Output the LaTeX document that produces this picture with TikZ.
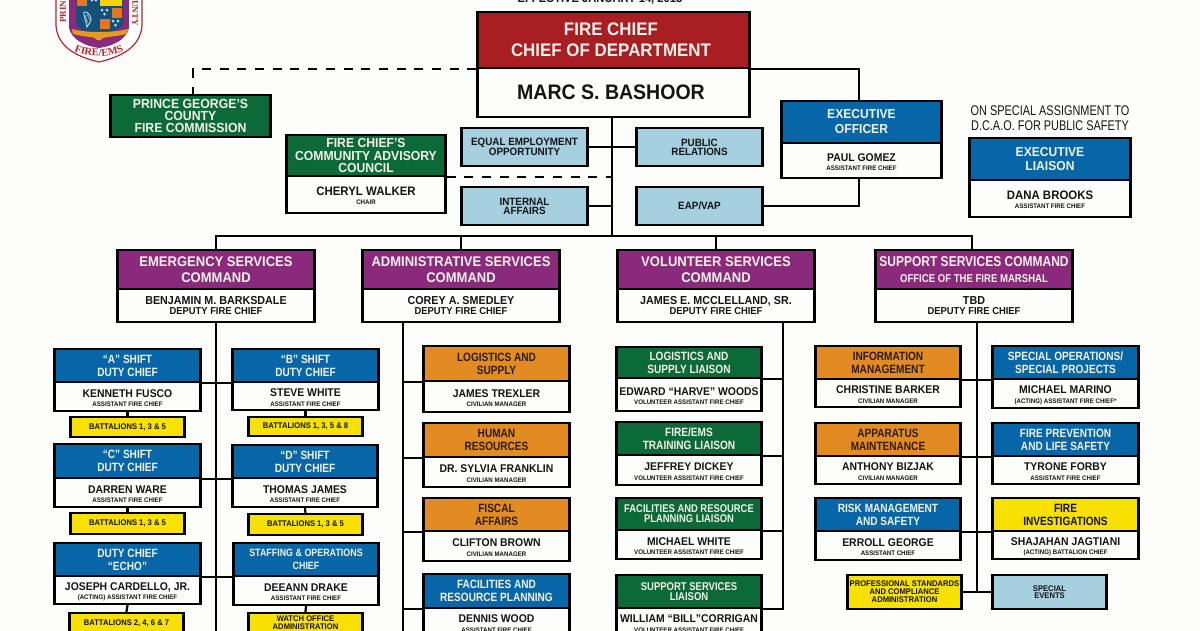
\documentclass[tikz,border=0pt]{standalone}
\usepackage{fontspec}
\setmainfont{Liberation Sans}[FakeStretch=0.93]
\newfontfamily\cardsans{Liberation Sans}[FakeStretch=0.84]
\newfontfamily\narrowsans{Liberation Sans}[FakeStretch=0.78]
\newfontfamily\crestserif{Liberation Serif}
\usetikzlibrary{decorations.text}

\definecolor{pgred}{HTML}{A91E23}
\definecolor{pgblue}{HTML}{0766A8}
\definecolor{pggreen}{HTML}{0C6A38}
\definecolor{pgpurple}{HTML}{8B2A7C}
\definecolor{pgorange}{HTML}{E18B22}
\definecolor{pgyellow}{HTML}{F8E000}
\definecolor{pgpale}{HTML}{A6CFE0}
\definecolor{paper}{HTML}{FDFDFC}
\definecolor{lighttext}{HTML}{F3F1E8}
\definecolor{ink}{HTML}{141414}
\definecolor{crestred}{HTML}{B8262C}
\definecolor{crestblue}{HTML}{14507A}

% box by its pixel corners: name, x1, y1, x2, y2, style, text
\newcommand\pxbox[7]{%
  \node[box,#6,minimum width={#4-#2-1},minimum height={#5-#3}] (#1)
    at ({(#2+#4)/2},{(#3+#5)/2}) {#7};}
\newcommand\fs[2]{{\fontsize{#1}{10}\selectfont #2}}
\newcommand\who[2]{\fs{11.2}{\rule{0pt}{11pt}#1}\\\fs{6.6}{#2}}
\newcommand\bigwho[2]{\fs{12.3}{\rule{0pt}{11pt}#1}\\\fs{6.6}{#2}}

\tikzset{
  box/.style={draw=black,line width=2.2,inner sep=0pt,align=center,text=ink},
  sz/.style 2 args={font=\fontsize{#1}{#2}\selectfont\bfseries},
  csz/.style 2 args={font=\cardsans\fontsize{#1}{#2}\selectfont\bfseries},
  body/.style={fill=paper,sz={11.2}{9.6}},
  lt/.style={text=lighttext},
  hred/.style={fill=pgred,lt},
  hblue/.style={fill=pgblue,lt},
  hgreen/.style={fill=pggreen,lt},
  hpurple/.style={fill=pgpurple,lt},
  horange/.style={fill=pgorange,text=black!80!pgorange},
  hyellow/.style={fill=pgyellow},
  pale/.style={fill=pgpale,sz={10.6}{9}},
  card/.style={csz={12}{13}},
  cmd/.style={sz={14}{16.5}},
  batt/.style={fill=pgyellow,sz={8.2}{8}},
  link/.style={draw=black,line width=2.2,line cap=rect},
  dashlink/.style={draw=black,line width=2.2,dash pattern=on 9pt off 8.7pt},
}

\begin{document}
\begin{tikzpicture}[x=1pt,y=-1pt]
\useasboundingbox (0,0) rectangle (1200,630);
\clip (0,0) rectangle (1200,630);
\fill[paper] (0,0) rectangle (1200,630);

% crest, top left
\draw[crestred,line width=1.2,fill=white] (56,-6) -- (56,26) .. controls (58,48) and (78,57) .. (99,62)
  .. controls (120,57) and (140,48) .. (142,26) -- (142,-6) -- cycle;
\fill[pgpurple] (69,-6) -- (69,28) .. controls (72,40) and (85,46) .. (99,48)
  .. controls (113,46) and (126,40) .. (129,28) -- (129,-6) -- cycle;
\fill[crestblue] (76,-6) -- (76,24) .. controls (78,30) and (90,33) .. (99,34)
  .. controls (108,33) and (120,30) .. (123,24) -- (123,-6) -- cycle;
\fill[pgorange!85!red] (77,-2) rectangle (87,6);
\fill[pgyellow!85!orange] (100,-2) rectangle (122,6);
\fill[pgorange!85!red] (112,8) rectangle (122,18);
\fill[pgorange!85!red] (100,19) rectangle (110,29);
\fill[pgpale!70!white] (92,0) circle (1.6) (96,0) circle (1.6);
\fill[pgpale!70!white] (102,10) circle (1.5) (107,10) circle (1.5) (104.5,14) circle (1.5);
\fill[pgpale!70!white] (113,21) circle (1.5) (118,21) circle (1.5) (115.5,25) circle (1.5);
\draw[pgpale,line width=1.1] (83,13) .. controls (86,10) and (90,14) .. (91,19)
  .. controls (91,22) and (88,25) .. (87,27) -- (84,14);
\draw[pgpale,line width=.5] (85,15) -- (88,23) (87,14) -- (89.5,20);
\fill[pgorange!80!pgyellow] (72,29) .. controls (85,33) and (113,33) .. (128,29)
  -- (127,34) .. controls (113,37) and (104,37) .. (103,38) .. controls (101,41) and (96,41) .. (95,38)
  .. controls (94,37) and (85,37) .. (73,34) -- cycle;
\node[text=crestred,font=\crestserif\fontsize{9}{9}\selectfont\bfseries,rotate=90,anchor=west,inner sep=0pt]
  (crestl) at (63,23) {PRIN};
\node[text=crestred,font=\crestserif\fontsize{9}{9}\selectfont\bfseries,rotate=-90,anchor=west,inner sep=0pt]
  (crestr) at (135,0) {UNTY};
\path[postaction={decorate,decoration={text along path,text align=center,
    text={|\crestserif\fontsize{10.5}{10.5}\selectfont\bfseries\color{crestred}|FIRE/EMS}}}]
  (67,47) .. controls (84,59) and (114,59) .. (131,47);

% heading cut by the top edge
\node[anchor=base,inner sep=0pt,font=\fontsize{12}{12}\selectfont\bfseries,text=ink] (effective) at (600,2)
  {EFFECTIVE JANUARY 14, 2013};

% fire chief and staff
\pxbox{chief}{477}{12}{750}{68}{hred,sz={18.2}{21}}{FIRE CHIEF\hspace*{5pt}\\CHIEF OF DEPARTMENT\hspace*{5pt}}
\pxbox{chief-b}{477}{68}{750}{117}{body,sz={21}{20}}{MARC S. BASHOOR\hspace*{5pt}}
\pxbox{comm}{110}{95}{271}{137}{hgreen,sz={13.2}{12.2}}{PRINCE GEORGE’S\\COUNTY\\FIRE COMMISSION}
\pxbox{adv}{286}{135}{446}{176}{hgreen,sz={13.1}{12.2}}{FIRE CHIEF’S\\COMMUNITY ADVISORY\\COUNCIL}
\pxbox{adv-b}{286}{176}{446}{213}{body}{\bigwho{CHERYL WALKER}{CHAIR}}
\pxbox{eeo}{461}{128}{588}{166}{pale}{EQUAL EMPLOYMENT\\OPPORTUNITY}
\pxbox{pr}{636}{128}{763}{166}{pale}{PUBLIC\\RELATIONS}
\pxbox{ia}{461}{187}{588}{225}{pale}{INTERNAL\\AFFAIRS}
\pxbox{eap}{636}{187}{763}{225}{pale}{EAP/VAP}
\pxbox{exec}{781}{101}{942}{143}{hblue,sz={13}{15}}{EXECUTIVE\\OFFICER}
\pxbox{exec-b}{781}{143}{942}{178}{body}{\who{PAUL GOMEZ}{ASSISTANT FIRE CHIEF}}
\node[inner sep=0pt,align=center,text=ink,font=\narrowsans\fontsize{14}{15.5}\selectfont] (note) at (1050,118)
  {ON SPECIAL ASSIGNMENT TO\\D.C.A.O. FOR PUBLIC SAFETY};
\pxbox{liaison}{969}{138}{1131}{180}{hblue,sz={13}{14.5}}{EXECUTIVE\\LIAISON}
\pxbox{liaison-b}{969}{180}{1131}{217}{body}{\bigwho{DANA BROOKS}{ASSISTANT FIRE CHIEF}}

% commands
\pxbox{emg}{117}{250}{315}{289}{hpurple,cmd}{EMERGENCY SERVICES\\COMMAND}
\pxbox{emg-b}{117}{289}{315}{322}{body,sz={11.2}{10.5}}{\fs{11.55}{BENJAMIN M. BARKSDALE}\\\fs{10.1}{DEPUTY FIRE CHIEF}}
\pxbox{adm}{362}{250}{560}{289}{hpurple,cmd}{ADMINISTRATIVE SERVICES\\COMMAND}
\pxbox{adm-b}{362}{289}{560}{322}{body,sz={11.2}{10.5}}{\fs{11.55}{COREY A. SMEDLEY}\\\fs{10.1}{DEPUTY FIRE CHIEF}}
\pxbox{vol}{617}{250}{815}{289}{hpurple,cmd}{VOLUNTEER SERVICES\\COMMAND}
\pxbox{vol-b}{617}{289}{815}{322}{body,sz={11.2}{10.5}}{\fs{11.55}{JAMES E. MCCLELLAND, SR.}\\\fs{10.1}{DEPUTY FIRE CHIEF}}
\pxbox{sup}{875}{250}{1073}{289}{hpurple,csz={14.3}{16.5}}{SUPPORT SERVICES COMMAND\\\fs{11.4}{OFFICE OF THE FIRE MARSHAL}}
\pxbox{sup-b}{875}{289}{1073}{322}{body,sz={11.2}{10.5}}{\fs{11.55}{TBD}\\\fs{10.1}{DEPUTY FIRE CHIEF}}

% emergency services
\pxbox{sa}{54}{349}{201}{382}{hblue,card}{“A” SHIFT\\DUTY CHIEF}
\pxbox{sa-b}{54}{382}{201}{411}{body}{\who{KENNETH FUSCO}{ASSISTANT FIRE CHIEF}}
\pxbox{sb}{232}{349}{379}{382}{hblue,card}{“B” SHIFT\\DUTY CHIEF}
\pxbox{sb-b}{232}{382}{379}{410}{body}{\who{STEVE WHITE}{ASSISTANT FIRE CHIEF}}
\pxbox{ba}{70}{417}{185}{437}{batt}{BATTALIONS 1, 3 \& 5}
\pxbox{bb}{248}{417}{363}{436}{batt}{BATTALIONS 1, 3, 5 \& 8}
\pxbox{sc}{54}{444}{201}{478}{hblue,card}{“C” SHIFT\\DUTY CHIEF}
\pxbox{sc-b}{54}{478}{201}{507}{body}{\who{DARREN WARE}{ASSISTANT FIRE CHIEF}}
\pxbox{sd}{232}{445}{378}{478}{hblue,card}{“D” SHIFT\\DUTY CHIEF}
\pxbox{sd-b}{232}{478}{378}{507}{body}{\who{THOMAS JAMES}{ASSISTANT FIRE CHIEF}}
\pxbox{bc}{70}{513}{185}{534}{batt}{BATTALIONS 1, 3 \& 5}
\pxbox{bd}{248}{514}{363}{535}{batt}{BATTALIONS 1, 3 \& 5}
\pxbox{se}{54}{543}{201}{576}{hblue,card}{DUTY CHIEF\\“ECHO”}
\pxbox{se-b}{54}{576}{201}{604}{body}{\who{JOSEPH CARDELLO, JR.}{(ACTING) ASSISTANT FIRE CHIEF}}
\pxbox{so}{233}{543}{379}{576}{hblue,csz={10.6}{13}}{STAFFING \& OPERATIONS\\CHIEF}
\pxbox{so-b}{233}{576}{379}{605}{body}{\who{DEEANN DRAKE}{ASSISTANT FIRE CHIEF}}
\pxbox{be}{69}{613}{184}{633}{batt}{BATTALIONS 2, 4, 6 \& 7}
\pxbox{bo}{248}{613}{363}{633}{batt}{WATCH OFFICE\\ADMINISTRATION}

% administrative services
\pxbox{lg}{423}{346}{570}{381}{horange,card}{LOGISTICS AND\\SUPPLY}
\pxbox{lg-b}{423}{381}{570}{412}{body}{\who{JAMES TREXLER}{CIVILIAN MANAGER}}
\pxbox{hr}{423}{423}{570}{457}{horange,card}{HUMAN\\RESOURCES}
\pxbox{hr-b}{423}{457}{570}{487}{body}{\who{DR. SYLVIA FRANKLIN}{CIVILIAN MANAGER}}
\pxbox{fa}{423}{498}{570}{531}{horange,card}{FISCAL\\AFFAIRS}
\pxbox{fa-b}{423}{531}{570}{561}{body}{\who{CLIFTON BROWN}{CIVILIAN MANAGER}}
\pxbox{fr}{423}{574}{570}{608}{hblue,card}{FACILITIES AND\\RESOURCE PLANNING}
\pxbox{fr-b}{423}{608}{570}{636}{body}{\who{DENNIS WOOD}{ASSISTANT FIRE CHIEF}}

% volunteer services
\pxbox{vl}{616}{347}{762}{378}{hgreen,card}{LOGISTICS AND\\SUPPLY LIAISON}
\pxbox{vl-b}{616}{378}{762}{411}{body}{\who{EDWARD “HARVE” WOODS}{VOLUNTEER ASSISTANT FIRE CHIEF}}
\pxbox{vt}{616}{422}{762}{455}{hgreen,card}{FIRE/EMS\\TRAINING LIAISON}
\pxbox{vt-b}{616}{455}{762}{485}{body}{\who{JEFFREY DICKEY}{VOLUNTEER ASSISTANT FIRE CHIEF}}
\pxbox{vf}{616}{498}{762}{530}{hgreen,csz={11.2}{10}}{FACILITIES AND RESOURCE\\PLANNING LIAISON}
\pxbox{vf-b}{616}{530}{762}{559}{body}{\who{MICHAEL WHITE}{VOLUNTEER ASSISTANT FIRE CHIEF}}
\pxbox{vs}{616}{575}{762}{608}{hgreen,csz={11.3}{10}}{SUPPORT SERVICES\\LIAISON}
\pxbox{vs-b}{616}{608}{762}{636}{body}{\who{WILLIAM “BILL”CORRIGAN}{VOLUNTEER ASSISTANT FIRE CHIEF}}

% support services
\pxbox{ic}{815}{346}{961}{379}{horange,card}{INFORMATION\\MANAGEMENT}
\pxbox{ic-b}{815}{379}{961}{407}{body}{\who{CHRISTINE BARKER}{CIVILIAN MANAGER}}
\pxbox{op}{992}{346}{1139}{379}{hblue,card}{SPECIAL OPERATIONS/\\SPECIAL PROJECTS}
\pxbox{op-b}{992}{379}{1139}{408}{body}{\who{MICHAEL MARINO}{(ACTING) ASSISTANT FIRE CHIEF*}}
\pxbox{ap}{815}{423}{961}{456}{horange,card}{APPARATUS\\MAINTENANCE}
\pxbox{ap-b}{815}{456}{961}{484}{body}{\who{ANTHONY BIZJAK}{CIVILIAN MANAGER}}
\pxbox{fp}{992}{423}{1139}{456}{hblue,card}{FIRE PREVENTION\\AND LIFE SAFETY}
\pxbox{fp-b}{992}{456}{1139}{484}{body}{\who{TYRONE FORBY}{ASSISTANT FIRE CHIEF}}
\pxbox{rm}{815}{498}{961}{531}{hblue,card}{RISK MANAGEMENT\\AND SAFETY}
\pxbox{rm-b}{815}{531}{961}{560}{body}{\who{ERROLL GEORGE}{ASSISTANT CHIEF}}
\pxbox{fi}{992}{498}{1139}{531}{hyellow,card}{FIRE\\INVESTIGATIONS}
\pxbox{fi-b}{992}{531}{1139}{559}{body}{\who{SHAJAHAN JAGTIANI}{(ACTING) BATTALION CHIEF}}
\pxbox{ps}{847}{575}{962}{609}{batt}{PROFESSIONAL STANDARDS\\AND COMPLIANCE\\ADMINISTRATION}
\pxbox{ev}{992}{575}{1107}{609}{pale,sz={8.2}{7.4}}{SPECIAL\\EVENTS}

% connector helper points
\coordinate (bar) at (612,236);
\coordinate (commx) at (193,95);
\coordinate (execx) at (859,101);
\coordinate (supdrop) at (972,250);
\coordinate (emgend) at (217,632);
\coordinate (admx) at (403,322);
\coordinate (admend) at (403,632);
\coordinate (volx) at (783,322);
\coordinate (supx) at (977,322);

% chief and staff links
\draw[dashlink] (chief.south west) -| (commx);
\draw[dashlink] (adv.south east) -- (adv.south east -| bar);
\draw[link] (chief.south east) -| (execx);
\draw[link] (execx |- exec-b.south) |- (eap.east);
\draw[link] (eeo.east) -- (pr.west);
\draw[link] (ia.east) -- (ia.east -| bar);
\draw[link] (chief-b.south -| bar) -- (bar);
\draw[link] (emg.north) |- (bar);
\draw[link] (adm.north) |- (bar);
\draw[link] (vol.north) |- (bar);
\draw[link] (supdrop) |- (bar);

% emergency services links
\draw[link] (emg-b.south) -- (emg-b.south |- emgend);
\draw[link] (sa.south east) -- (sb.south west);
\draw[link] (sc.south east) -- (sd.south west);
\draw[link] (se.south east) -- (so.south west);
\draw[link] (sa-b.south) -- (ba.north);
\draw[link] (sb-b.south) -- (bb.north);
\draw[link] (sc-b.south) -- (bc.north);
\draw[link] (sd-b.south) -- (bd.north);
\draw[link] (se-b.south) -- (be.north);
\draw[link] (so-b.south) -- (bo.north);

% administrative services links
\draw[link] (admx) -- (admend);
\draw[link] (lg.south west) -- (lg.south west -| admx);
\draw[link] (hr.south west) -- (hr.south west -| admx);
\draw[link] (fa.south west) -- (fa.south west -| admx);
\draw[link] (fr.south west) -- (fr.south west -| admx);

% volunteer services links
\draw[link] (volx) -- (volx |- vs.south east);
\draw[link] (vl.south east) -- (vl.south east -| volx);
\draw[link] (vt.south east) -- (vt.south east -| volx);
\draw[link] (vf.south east) -- (vf.south east -| volx);
\draw[link] (vs.south east) -- (vs.south east -| volx);

% support services links
\draw[link] (supx) -- (supx |- ps.east);
\draw[link] (ic.south east) -- (op.south west);
\draw[link] (ap.south east) -- (fp.south west);
\draw[link] (rm.south east) -- (fi.south west);
\draw[link] (ps.east) -- (ev.west);
\end{tikzpicture}
\end{document}
